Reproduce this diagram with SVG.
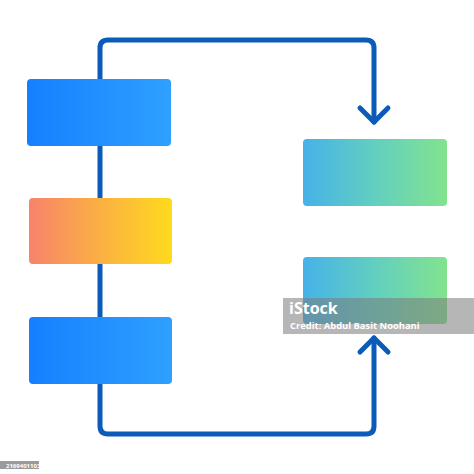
<svg xmlns="http://www.w3.org/2000/svg" width="474" height="474" viewBox="0 0 474 474">
  <defs>
    <linearGradient id="gBlue" x1="0" y1="0" x2="1" y2="0">
      <stop offset="0" stop-color="#1580FF"/>
      <stop offset="1" stop-color="#2EA0FF"/>
    </linearGradient>
    <linearGradient id="gOrange" x1="0" y1="0" x2="1" y2="0">
      <stop offset="0" stop-color="#F7836C"/>
      <stop offset="0.5" stop-color="#FBB042"/>
      <stop offset="1" stop-color="#FFDA1E"/>
    </linearGradient>
    <linearGradient id="gGreen" x1="0" y1="0" x2="1" y2="0">
      <stop offset="0" stop-color="#46B2E8"/>
      <stop offset="0.5" stop-color="#62CFC0"/>
      <stop offset="1" stop-color="#82E38D"/>
    </linearGradient>
    <style>
      .wire { fill: none; stroke: #0B5CB8; stroke-width: 5; stroke-linecap: round; stroke-linejoin: round; }
      .wm { font-family: "Open Sans", "Liberation Sans", sans-serif; font-weight: bold; fill: #ffffff; }
    </style>
  </defs>
  <rect width="474" height="474" fill="#ffffff"/>

  <g id="connectors">
    <path class="wire" d="M100 79 V48 Q100 40 108 40 H366 Q374 40 374 48 V122"/>
    <path class="wire" d="M360 108 L374 122 L388 108"/>
    <path class="wire" d="M100 146 V198"/>
    <path class="wire" d="M100 264 V317"/>
    <path class="wire" d="M100 384 V426 Q100 434 108 434 H366 Q374 434 374 426 V338"/>
    <path class="wire" d="M360 352 L374 338 L388 352"/>
  </g>

  <g id="node-left-1"><rect x="27" y="79" width="144" height="67" rx="4" fill="url(#gBlue)"/></g>
  <g id="node-left-2"><rect x="29" y="198" width="143" height="66" rx="4" fill="url(#gOrange)"/></g>
  <g id="node-left-3"><rect x="29" y="317" width="143" height="67" rx="4" fill="url(#gBlue)"/></g>
  <g id="node-right-1"><rect x="303" y="139" width="144" height="67" rx="4" fill="url(#gGreen)"/></g>
  <g id="node-right-2"><rect x="303" y="257" width="144" height="67" rx="4" fill="url(#gGreen)"/></g>

  <g id="watermark">
    <rect x="283" y="298" width="191" height="36" fill="#7a7a7a" fill-opacity="0.55"/>
    <text class="wm" x="289" y="314" font-size="16" font-weight="600">iStock</text>
    <text class="wm" x="290" y="329" font-size="9.4">Credit: Abdul Basit Noohani</text>
    <rect x="0" y="461" width="39" height="8" fill="#9a9a9a"/>
    <text class="wm" x="6" y="467.5" font-size="6">2169401103</text>
  </g>
</svg>
